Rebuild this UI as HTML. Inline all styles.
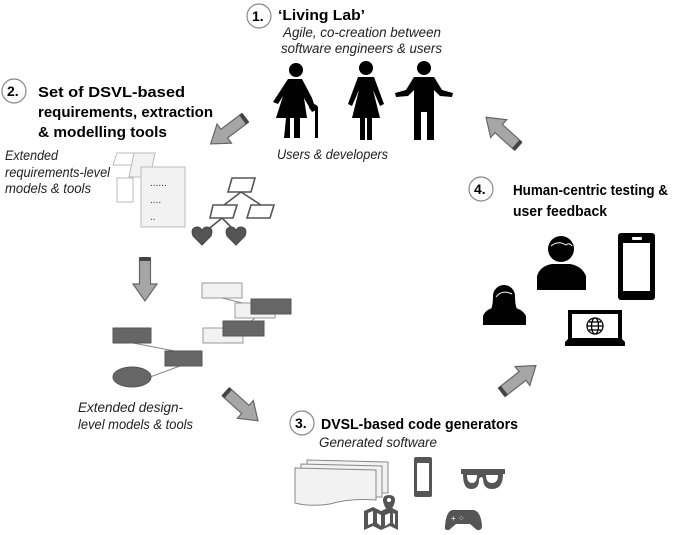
<!DOCTYPE html>
<html><head><meta charset="utf-8"><style>
html,body{margin:0;padding:0;background:#fff}
svg{display:block}
.b{font-family:"Liberation Sans",sans-serif;font-weight:bold;font-size:15px;fill:#000}
.i{font-family:"Liberation Sans",sans-serif;font-style:italic;font-size:13.5px;fill:#222}
.n{font-family:"Liberation Sans",sans-serif;font-weight:bold;font-size:14px;fill:#000}
</style></head><body>
<svg width="685" height="535" viewBox="0 0 685 535" xmlns="http://www.w3.org/2000/svg">
<defs>
<g id="arr"><path d="M0,-5.5 L26,-5.5 L26,-12 L43,0 L26,12 L26,5.5 L0,5.5 Z" fill="#a6a6a6" stroke="#666" stroke-width="1.2"/><rect x="-1" y="-5.5" width="4" height="11" fill="#444"/></g>
</defs>

<!-- 1 -->
<circle cx="259" cy="16" r="12" fill="#fff" stroke="#888" stroke-width="1.2"/>
<text x="252" y="21" class="n">1.</text>
<text x="278" y="20" class="b" textLength="87" lengthAdjust="spacingAndGlyphs">‘Living Lab’</text>
<text x="283" y="37" class="i" textLength="158" lengthAdjust="spacingAndGlyphs">Agile, co-creation between</text>
<text x="281" y="53" class="i" textLength="161" lengthAdjust="spacingAndGlyphs">software engineers &amp; users</text>
<g fill="#000">
<circle cx="296" cy="70" r="7"/>
<path d="M288,79 L302,79 L312,98 L316,110 L312,112 L304,98 L307,118 L300,118 L300,138 L294,138 L294,118 L290,118 L290,138 L284,138 L286,118 L276,118 L283,96 L278,104 L273,102 Z"/>
<path d="M309,108 Q314,101 318,107 L318,138 L315,138 L315,108 Q313,105 311,110 Z"/>
<circle cx="366" cy="68" r="7"/>
<path d="M358,77 L374,77 L384,104 L380,106 L373,90 L380,118 L372,118 L372,140 L367,140 L367,118 L365,118 L365,140 L360,140 L360,118 L352,118 L359,90 L352,106 L348,104 Z"/>
<circle cx="424" cy="68" r="7"/>
<path d="M414,77 L434,77 L442,90 L453,93 L452,97 L440,96 L434,90 L434,140 L427,140 L427,112 L421,112 L421,140 L414,140 L414,90 L408,96 L396,97 L395,93 L406,90 Z"/>
</g>
<text x="277" y="159" class="i" textLength="111" lengthAdjust="spacingAndGlyphs">Users &amp; developers</text>

<!-- 2 -->
<circle cx="14" cy="91" r="12" fill="#fff" stroke="#888" stroke-width="1.2"/>
<text x="7" y="96" class="n">2.</text>
<text x="38" y="97" class="b" textLength="147" lengthAdjust="spacingAndGlyphs">Set of DSVL-based</text>
<text x="38" y="117" class="b" textLength="175" lengthAdjust="spacingAndGlyphs">requirements, extraction</text>
<text x="38" y="137" class="b" textLength="129" lengthAdjust="spacingAndGlyphs">&amp; modelling tools</text>
<text x="5" y="160" class="i" textLength="53" lengthAdjust="spacingAndGlyphs">Extended</text>
<text x="5" y="177" class="i" textLength="105" lengthAdjust="spacingAndGlyphs">requirements-level</text>
<text x="5" y="193" class="i" textLength="86" lengthAdjust="spacingAndGlyphs">models &amp; tools</text>
<path d="M117,153 L155,153 L151,165 L113,165 Z" fill="#fff" stroke="#bbb"/>
<path d="M134,153 L155,153 L150,177 L129,177 Z" fill="#f2f2f2" stroke="#bbb"/>
<rect x="117" y="178" width="16" height="24" fill="#fff" stroke="#bbb"/>
<rect x="141" y="167" width="44" height="60" fill="#f2f2f2" stroke="#bbb"/>
<text x="150" y="186" font-family="Liberation Sans" font-size="10" fill="#333">......</text>
<text x="150" y="203" font-family="Liberation Sans" font-size="10" fill="#333">....</text>
<text x="150" y="220" font-family="Liberation Sans" font-size="10" fill="#333">..</text>
<g stroke="#555" stroke-width="1.6" fill="#fff">
<line x1="241" y1="192" x2="224" y2="205"/><line x1="241" y1="192" x2="261" y2="205"/>
<line x1="222" y1="218" x2="205" y2="232"/><line x1="222" y1="218" x2="236" y2="232"/>
<path d="M232,178 L255,178 L251,192 L228,192 Z"/>
<path d="M213,205 L237,205 L233,218 L210,218 Z"/>
<path d="M251,205 L274,205 L270,218 L247,218 Z"/>
</g>
<g fill="#555" stroke="#444">
<path d="M202,245 L193,236 Q190,228 197,227 Q201,227 202,231 Q203,227 207,227 Q214,228 211,236 Z"/>
<path d="M236,245 L227,236 Q224,228 231,227 Q235,227 236,231 Q237,227 241,227 Q248,228 245,236 Z"/>
</g>

<use href="#arr" transform="translate(245,118) rotate(143)"/>
<use href="#arr" transform="translate(145,258) rotate(90)"/>
<use href="#arr" transform="translate(226,392) rotate(42)"/>
<use href="#arr" transform="translate(502,392) rotate(-38)"/>
<use href="#arr" transform="translate(518,146) rotate(-138)"/>

<g stroke="#888" stroke-width="1">
<line x1="222" y1="298" x2="255" y2="306"/><line x1="255" y1="318" x2="240" y2="330"/>
<line x1="133" y1="343" x2="180" y2="352"/><line x1="180" y1="366" x2="150" y2="377"/>
</g>
<rect x="202" y="283" width="40" height="15" fill="#f2f2f2" stroke="#999"/>
<rect x="235" y="303" width="40" height="15" fill="#f2f2f2" stroke="#999"/>
<rect x="203" y="328" width="40" height="15" fill="#f2f2f2" stroke="#999"/>
<rect x="251" y="299" width="40" height="15" fill="#666" stroke="#555"/>
<rect x="223" y="321" width="41" height="15" fill="#666" stroke="#555"/>
<rect x="113" y="328" width="38" height="15" fill="#666" stroke="#555"/>
<rect x="165" y="351" width="37" height="15" fill="#666" stroke="#555"/>
<ellipse cx="132" cy="377" rx="19" ry="10" fill="#666" stroke="#555"/>
<text x="78" y="412" class="i" textLength="105" lengthAdjust="spacingAndGlyphs">Extended design-</text>
<text x="78" y="429" class="i" textLength="115" lengthAdjust="spacingAndGlyphs">level models &amp; tools</text>

<!-- 3 -->
<circle cx="302" cy="423" r="12" fill="#fff" stroke="#888" stroke-width="1.2"/>
<text x="295" y="428" class="n">3.</text>
<text x="321" y="429" class="b" textLength="197" lengthAdjust="spacingAndGlyphs">DVSL-based code generators</text>
<text x="319" y="447" class="i" textLength="118" lengthAdjust="spacingAndGlyphs">Generated software</text>
<g fill="#f2f2f2" stroke="#888">
<path d="M307,460 L388,462 L388,493 L307,493 Z"/>
<path d="M301,464 L382,466 L382,497 L301,497 Z"/>
<path d="M295,468 L376,470 L376,500 Q350,498 330,504 Q310,507 295,503 Z"/>
</g>
<rect x="414" y="457" width="18" height="40" rx="2" fill="#555"/>
<rect x="417" y="463" width="12" height="28" fill="#fff"/>
<path d="M461,469 L505,469 L505,474 L503,474 Q503,489 492,489 Q483,489 483,478 L481,477 Q479,478 479,480 Q479,489 471,489 Q463,489 463,474 L461,474 Z" fill="#555"/>
<path d="M467,475 L477,475 Q477,483 472,483 Q467,483 467,475 Z M486,475 L498,475 Q498,483 492,483 Q486,483 486,475 Z" fill="#fff"/>
<path d="M364,511 L373,507 L381,511 L390,507 L398,511 L398,530 L390,526 L381,530 L373,526 L364,530 Z" fill="#555"/>
<path d="M368,513 L373,511 L373,523 L368,525 Z M377,513 L381,515 L381,526 L377,523 Z M385,515 L390,513 L390,523 L385,526 Z M393,513 L395,514 L395,525 L393,523 Z" fill="#fff"/>
<path d="M389,513 Q383,505 383,500 Q383,495 389,495 Q395,495 395,500 Q395,505 389,513 Z" fill="#555"/>
<circle cx="389" cy="500" r="2" fill="#fff"/>
<path d="M452,510 L474,510 Q481,512 482,526 Q482,531 477,530 L470,524 L456,524 L449,530 Q444,531 445,526 Q446,512 452,510 Z" fill="#555"/>
<text x="451" y="521" font-family="Liberation Sans" font-size="8" fill="#fff">+  ⁘</text>

<!-- 4 -->
<circle cx="481" cy="189" r="12" fill="#fff" stroke="#888" stroke-width="1.2"/>
<text x="474" y="194" class="n">4.</text>
<text x="513" y="195" class="b" textLength="155" lengthAdjust="spacingAndGlyphs">Human-centric testing &amp;</text>
<text x="513" y="216" class="b" textLength="94" lengthAdjust="spacingAndGlyphs">user feedback</text>
<g fill="#000">
<circle cx="561" cy="249" r="13"/>
<path d="M537,290 L537,276 Q540,266 552,264 L570,264 Q582,266 586,276 L586,290 Z"/>
<circle cx="504" cy="296" r="11"/>
<path d="M493,296 Q493,311 487,314 L521,314 Q515,311 515,296 Z"/>
<path d="M483,325 L483,316 Q486,308 498,307 L510,307 Q522,308 526,316 L526,325 Z"/>
<rect x="618" y="233" width="37" height="67" rx="3"/>
<path d="M565,342 L568,339 L568,310 L622,310 L622,339 L625,342 L625,346 L565,346 Z"/>
</g>
<path d="M551,246 Q558,240 566,245 Q569,242 572,246" fill="none" stroke="#fff" stroke-width="1"/>
<path d="M496,297 Q502,289 512,294" fill="none" stroke="#fff" stroke-width="1"/>
<rect x="623" y="243" width="27" height="48" fill="#fff"/>
<rect x="632" y="237" width="10" height="3" rx="1" fill="#fff"/>
<rect x="572" y="314" width="46" height="24" fill="#fff"/>
<g fill="none" stroke="#000" stroke-width="1.3">
<circle cx="595" cy="326" r="8"/><ellipse cx="595" cy="326" rx="3.5" ry="8"/>
<line x1="587" y1="326" x2="603" y2="326"/><line x1="589" y1="322" x2="601" y2="322"/><line x1="589" y1="330" x2="601" y2="330"/>
</g>
</svg>
</body></html>
